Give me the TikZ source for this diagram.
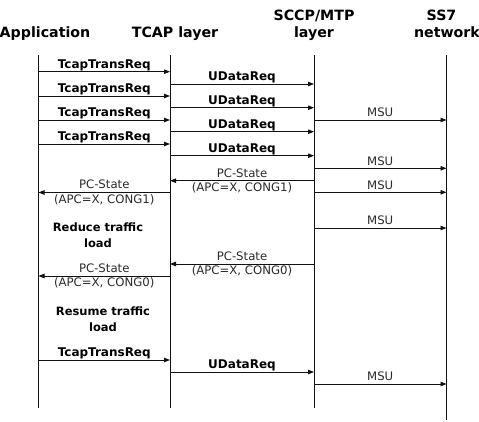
\documentclass[tikz,border=0pt]{standalone}
\usepackage{fontspec}
\setmainfont{DejaVu Sans}
\usetikzlibrary{arrows.meta}
\definecolor{ink}{HTML}{111111}
\definecolor{txt}{HTML}{2a2a2a}
\tikzset{
  life/.style={draw=ink, line width=0.9pt},
  msg/.style={draw=ink, line width=0.9pt, -{Triangle[length=6pt,width=4.5pt]}},
  hdr/.style={font=\fontsize{14.2}{16.5}\selectfont\bfseries, text=black, inner sep=0pt, align=center, anchor=base},
  blab/.style={font=\fontsize{12}{13}\selectfont\bfseries, text=black, inner sep=0pt, anchor=base},
  rlab/.style={font=\fontsize{11.7}{14.5}\selectfont, text=txt, inner sep=0pt, anchor=base},
  note/.style={font=\fontsize{11.5}{16}\selectfont\bfseries, text=black, inner sep=0pt, align=center, anchor=base},
}
\newcommand{\msgAT}[1]{\draw[msg] (A0 |- 0,#1) -- (T0 |- 0,#1) node[blab, midway, yshift=3.4pt] {TcapTransReq};}
\newcommand{\msgTS}[1]{\draw[msg] (T0 |- 0,#1) -- (S0 |- 0,#1) node[blab, midway, yshift=3.4pt] {UDataReq};}
\newcommand{\msgSN}[1]{\draw[msg] (S0 |- 0,#1) -- (N0 |- 0,#1) node[rlab, midway, yshift=3.2pt] {MSU};}
\begin{document}
\begin{tikzpicture}[x=1pt,y=-1pt]
\useasboundingbox (0,0) rectangle (479,421);
% lifelines
\coordinate (A0) at (38.5,55); \coordinate (A1) at (38.5,408);
\coordinate (T0) at (170,55);  \coordinate (T1) at (170,408);
\coordinate (S0) at (314,55);  \coordinate (S1) at (314,408);
\coordinate (N0) at (446.5,55); \coordinate (N1) at (446.5,420);
\draw[life] (A0) -- (A1);
\draw[life] (T0) -- (T1);
\draw[life] (S0) -- (S1);
\draw[life] (N0) -- (N1);
% headers
\node[hdr] (hA) at (45,37) {Application};
\node[hdr] (hT) at (175,37) {TCAP layer};
\node[hdr] (hS) at (314,37) {SCCP/MTP\\layer};
\node[hdr] (hN1) at (441.5,20.7) {SS7};
\node[hdr] (hN2) at (447,37) {network};
% messages
\msgAT{71.7}
\msgTS{84}
\msgAT{96}
\msgTS{107.7}
\msgSN{120}
\msgAT{120}
\msgTS{131.7}
\msgAT{144}
\msgTS{155.7}
\msgSN{168.3}
\draw[msg] (S0 |- 0,180.7) -- (T0 |- 0,180.7)
  node[rlab, midway, yshift=3.6pt] {PC-State}
  node[rlab, midway, yshift=-10.8pt] {(APC=X, CONG1)};
\draw[msg] (T0 |- 0,192.5) -- (A0 |- 0,192.5)
  node[rlab, midway, yshift=3.6pt] {PC-State}
  node[rlab, midway, yshift=-10.8pt] {(APC=X, CONG1)};
\msgSN{192.3}
\node[note] (red) at (98,247.5) {Reduce traffic\\load};
\msgSN{228}
\draw[msg] (S0 |- 0,264) -- (T0 |- 0,264)
  node[rlab, midway, yshift=3.6pt] {PC-State}
  node[rlab, midway, yshift=-10.8pt] {(APC=X, CONG0)};
\draw[msg] (T0 |- 0,276) -- (A0 |- 0,276)
  node[rlab, midway, yshift=3.6pt] {PC-State}
  node[rlab, midway, yshift=-10.8pt] {(APC=X, CONG0)};
\node[note] (res) at (103,331) {Resume traffic\\load};
\msgAT{360}
\msgTS{372}
\msgSN{384}
\end{tikzpicture}
\end{document}
